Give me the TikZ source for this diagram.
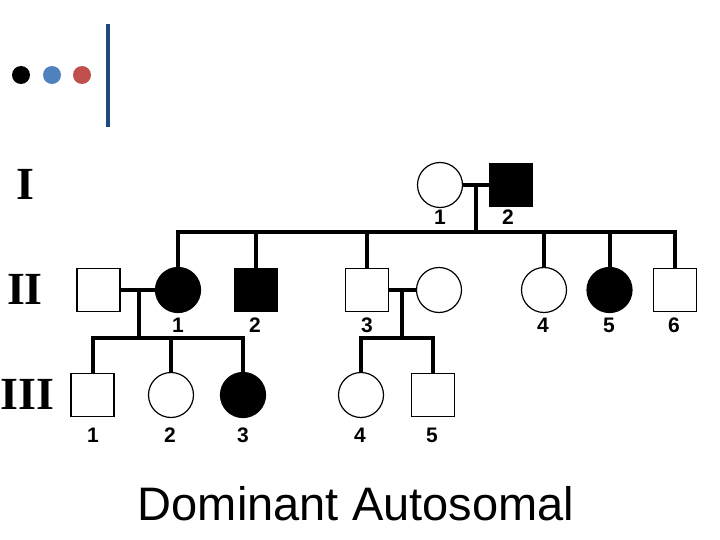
\documentclass[tikz,border=0pt]{standalone}
\usepackage{fontspec}
\setmainfont{Liberation Sans}
\newfontfamily\romanfont{Liberation Serif}
\definecolor{dotblue}{RGB}{79,129,189}
\definecolor{dotred}{RGB}{192,80,77}
\definecolor{barblue}{RGB}{31,73,125}
\begin{document}
\begin{tikzpicture}[x=1pt,y=-1pt,
  male/.style={draw, line width=1.6pt, minimum size=43pt, inner sep=0pt},
  female/.style={circle, draw, line width=1.2pt, minimum size=45pt, inner sep=0pt},
  aff/.style={fill=black},
  rel/.style={line width=4pt},
  sib/.style={line width=4pt, line cap=rect},
  num/.style={font=\bfseries\fontsize{21}{21}\selectfont, inner sep=0pt},
  gen/.style={font=\romanfont\bfseries\fontsize{46}{46}\selectfont, inner sep=0pt},
  dotnode/.style={circle, minimum size=18pt, inner sep=0pt}]
\useasboundingbox (0,0) rectangle (720,540);

% decoration
\node[dotnode, fill=black] (d1) at (21,75) {};
\node[dotnode, fill=dotblue] (d2) at (52,75) {};
\node[dotnode, fill=dotred] (d3) at (82,75) {};
\coordinate (bt) at (108,24);
\coordinate (bb) at (108,127);
\draw[barblue, line width=4pt] (bt) -- (bb);

% generation labels
\node[gen] (gI) at (25,184) {I};
\node[gen] (gII) at (25,289) {II};
\node[gen] (gIII) at (27.5,394) {III};

% generation I
\node[female] (I1) at (440,185) {};
\node[male, aff] (I2) at (511,185) {};
\node[num] (nI1) at (440,217) {1};
\node[num] (nI2) at (508,217) {2};

% generation II
\node[male] (H1) at (98.5,290) {};
\node[female, aff] (II1) at (178,290) {};
\node[male, aff] (II2) at (256,290) {};
\node[male] (II3) at (367,290) {};
\node[female] (W3) at (439,290) {};
\node[female] (II4) at (544,290) {};
\node[female, aff] (II5) at (609.5,290) {};
\node[male] (II6) at (675,290) {};
\node[num] (nII1) at (178,325) {1};
\node[num] (nII2) at (255,325) {2};
\node[num] (nII3) at (367,325) {3};
\node[num] (nII4) at (543,325) {4};
\node[num] (nII5) at (609,325) {5};
\node[num] (nII6) at (674,325) {6};

% generation III
\node[male] (III1) at (92.5,395) {};
\node[female] (III2) at (171,395) {};
\node[female, aff] (III3) at (243,395) {};
\node[female] (III4) at (361,395) {};
\node[male] (III5) at (433,395) {};
\node[num] (nIII1) at (93,435) {1};
\node[num] (nIII2) at (170,435) {2};
\node[num] (nIII3) at (243,435) {3};
\node[num] (nIII4) at (360,435) {4};
\node[num] (nIII5) at (432,435) {5};

% mating I and sibship II
\draw[rel] (I1.east) -- (I2.west);
\coordinate (cI) at (476,185);
\coordinate (sI) at (476,232);
\draw[rel] (cI) -- (sI);
\draw[sib] (II1.north |- sI) -- (II6.north |- sI);
\foreach \n in {II1,II2,II3,II4,II5,II6}
  \draw[rel] (\n.north |- sI) -- (\n.north);

% mating H1 x II1 and sibship
\draw[rel] (H1.east) -- (II1.west);
\coordinate (cA) at (139,290);
\coordinate (sA) at (139,338);
\draw[rel] (cA) -- (sA);
\draw[sib] (III1.north |- sA) -- (III3.north |- sA);
\foreach \n in {III1,III2,III3}
  \draw[rel] (\n.north |- sA) -- (\n.north);

% mating II3 x W3 and sibship
\draw[rel] (II3.east) -- (W3.west);
\coordinate (cB) at (402,290);
\coordinate (sB) at (402,338);
\draw[rel] (cB) -- (sB);
\draw[sib] (III4.north |- sB) -- (III5.north |- sB);
\foreach \n in {III4,III5}
  \draw[rel] (\n.north |- sB) -- (\n.north);

% title
\node[font=\fontsize{47}{47}\selectfont, anchor=base, inner sep=0pt] (title) at (356,520) {Dominant Autosomal};
\end{tikzpicture}
\end{document}
